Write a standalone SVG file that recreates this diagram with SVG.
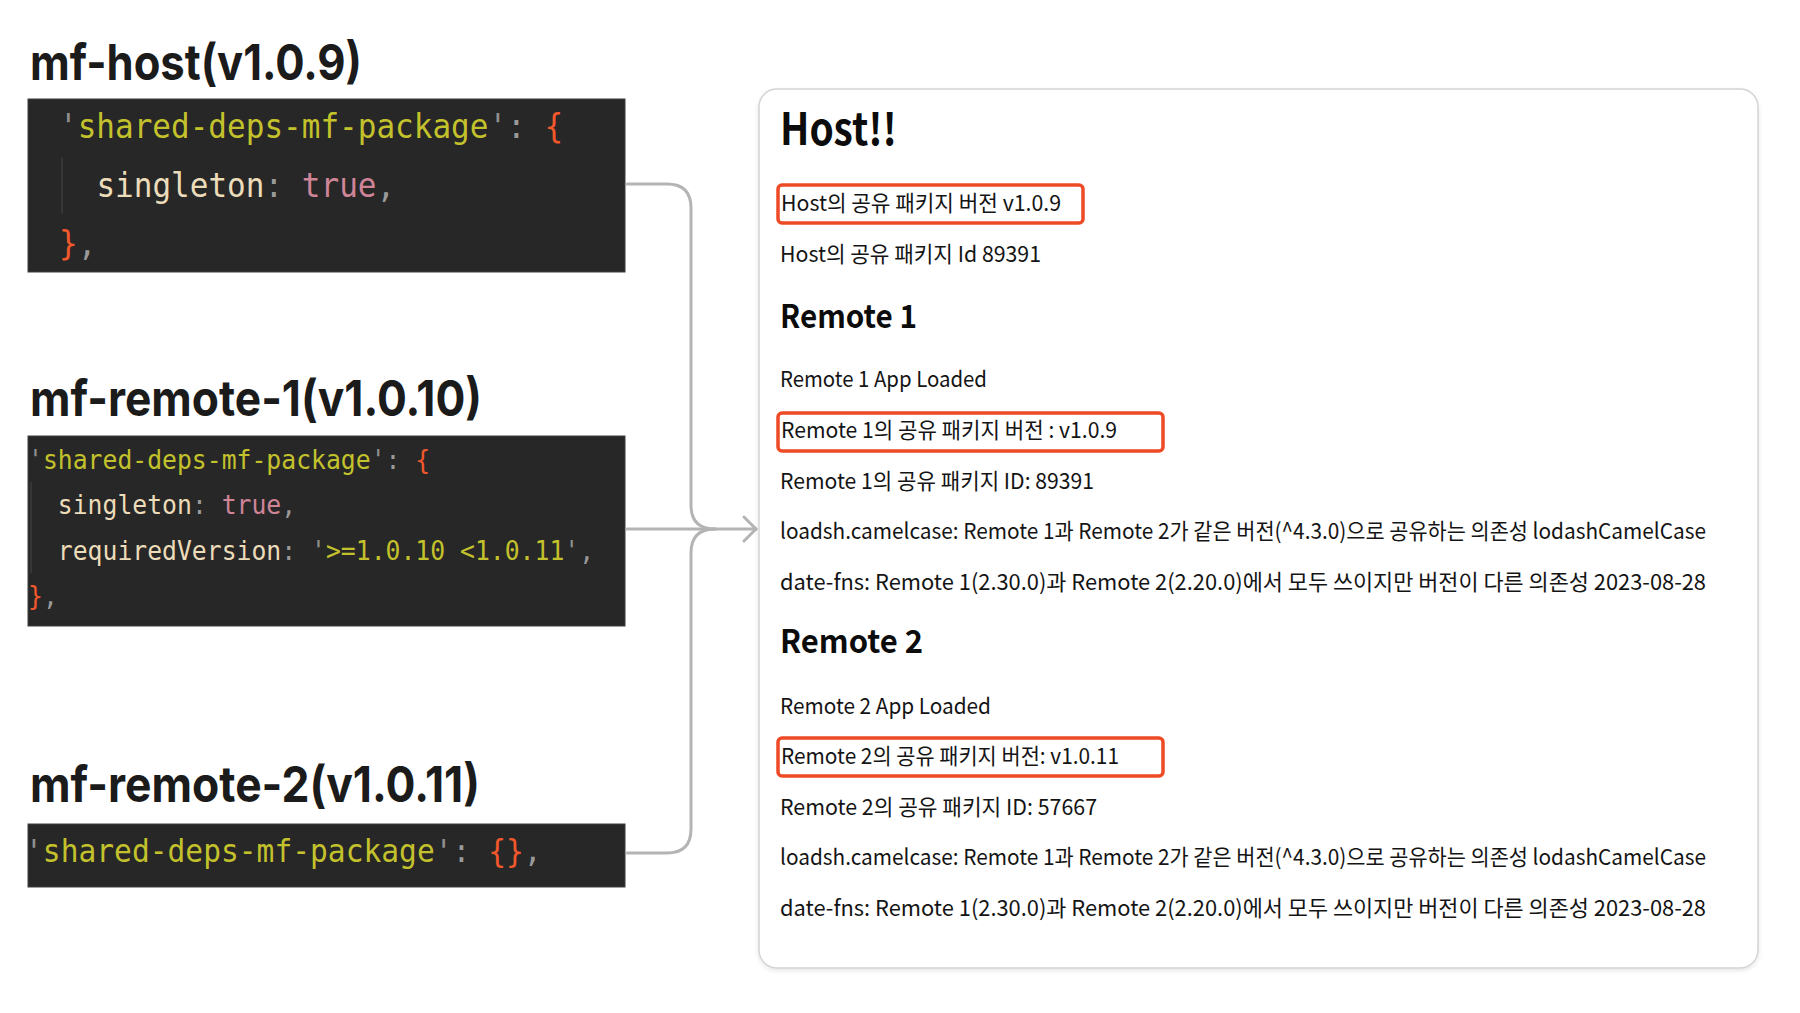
<svg xmlns="http://www.w3.org/2000/svg" width="1800" height="1013" viewBox="0 0 1800 1013">
<style>
.title{font-family:Inter,"Liberation Sans",sans-serif;font-weight:700;font-size:50px;fill:#1b1b1b}
.codebox{fill:#272727;stroke:#3e3e3e;stroke-width:1}
.code{font-family:"DejaVu Sans Mono","Liberation Mono",monospace;white-space:pre}
.str{fill:#c4c22c}.q{fill:#8f8f8f}.p{fill:#9a9a9a}.br{fill:#f2582c}.key{fill:#ecdcba}.kw{fill:#d08498}
.guide{stroke:#3d3d3a;stroke-width:1.5}
.panel{fill:#ffffff;stroke:#d4d4d4;stroke-width:1.5}
.t{font-family:"Noto Sans CJK KR","Noto Sans",sans-serif;font-size:22px;fill:#141414}
.h{font-family:"Noto Sans CJK KR","Noto Sans",sans-serif;font-weight:700;fill:#0c0c0c}
.hl{fill:none;stroke:#ee4a26;stroke-width:3.5}
.conn{fill:none;stroke:#b4b4b4;stroke-width:3;stroke-linecap:round;stroke-linejoin:round}
</style>
<defs>
<marker id="chev" viewBox="-16 -15 18 30" refX="0" refY="0" markerWidth="18" markerHeight="30" markerUnits="userSpaceOnUse" orient="auto">
<path d="M-12,-12 L0,0 L-12,12" fill="none" stroke="#b4b4b4" stroke-width="3" stroke-linecap="round" stroke-linejoin="round"/>
</marker>
<filter id="sh" x="-5%" y="-5%" width="110%" height="110%">
<feDropShadow dx="0" dy="2" stdDeviation="2" flood-color="#000" flood-opacity="0.10"/>
</filter>
</defs>
<rect width="1800" height="1013" fill="#ffffff"/>

<g id="node-host">
<text class="title" x="30" y="80" textLength="332" lengthAdjust="spacingAndGlyphs">mf-host(v1.0.9)</text>
<rect class="codebox" x="28" y="99" width="597" height="173"/>
<line class="guide" x1="62" y1="158" x2="62" y2="214"/>
<text class="code" transform="matrix(0.94,0,0,1,59,138)" font-size="33"><tspan class="q">'</tspan><tspan class="str">shared-deps-mf-package</tspan><tspan class="q">'</tspan><tspan class="p">: </tspan><tspan class="br">{</tspan></text>
<text class="code" transform="matrix(0.94,0,0,1,96.4,197)" font-size="33"><tspan class="key">singleton</tspan><tspan class="p">: </tspan><tspan class="kw">true</tspan><tspan class="p">,</tspan></text>
<text class="code" transform="matrix(0.94,0,0,1,59,255)" font-size="33"><tspan class="br">}</tspan><tspan class="p">,</tspan></text>
</g>

<g id="node-remote1">
<text class="title" x="30" y="416" textLength="452" lengthAdjust="spacingAndGlyphs">mf-remote-1(v1.0.10)</text>
<rect class="codebox" x="28" y="436" width="597" height="190"/>
<line class="guide" x1="31" y1="482" x2="31" y2="573"/>
<text class="code" transform="matrix(0.952,0,0,1,28,469)" font-size="26"><tspan class="q">'</tspan><tspan class="str">shared-deps-mf-package</tspan><tspan class="q">'</tspan><tspan class="p">: </tspan><tspan class="br">{</tspan></text>
<text class="code" transform="matrix(0.952,0,0,1,57.8,514)" font-size="26"><tspan class="key">singleton</tspan><tspan class="p">: </tspan><tspan class="kw">true</tspan><tspan class="p">,</tspan></text>
<text class="code" transform="matrix(0.952,0,0,1,57.8,560)" font-size="26"><tspan class="key">requiredVersion</tspan><tspan class="p">: </tspan><tspan class="q">'</tspan><tspan class="str">&gt;=1.0.10 &lt;1.0.11</tspan><tspan class="q">'</tspan><tspan class="p">,</tspan></text>
<text class="code" transform="matrix(0.952,0,0,1,28,605)" font-size="26"><tspan class="br">}</tspan><tspan class="p">,</tspan></text>
</g>

<g id="node-remote2">
<text class="title" x="30" y="802" textLength="450" lengthAdjust="spacingAndGlyphs">mf-remote-2(v1.0.11)</text>
<rect class="codebox" x="28" y="824" width="597" height="63"/>
<text class="code" transform="matrix(0.925,0,0,1,25,862)" font-size="32"><tspan class="q">'</tspan><tspan class="str">shared-deps-mf-package</tspan><tspan class="q">'</tspan><tspan class="p">: </tspan><tspan class="br">{}</tspan><tspan class="p">,</tspan></text>
</g>

<g id="connectors">
<path class="conn" d="M627,184 H667 Q691,184 691,208 V505 Q691,529 715,529"/>
<path class="conn" d="M627,853 H667 Q691,853 691,829 V553 Q691,529 715,529"/>
<path class="conn" d="M627,529 H756" marker-end="url(#chev)"/>
</g>

<g id="node-browser">
<rect class="panel" x="759" y="89" width="999" height="879" rx="18" filter="url(#sh)"/>
<text class="h" x="780" y="145" font-size="44" textLength="117" lengthAdjust="spacingAndGlyphs">Host!!</text>
<rect class="hl" x="778" y="185" width="305" height="38" rx="4"/>
<text class="t" x="781" y="211" textLength="280" lengthAdjust="spacingAndGlyphs">Host의 공유 패키지 버전 v1.0.9</text>
<text class="t" x="780" y="262" textLength="261" lengthAdjust="spacingAndGlyphs">Host의 공유 패키지 Id 89391</text>
<text class="h" x="780" y="328" font-size="32" textLength="137" lengthAdjust="spacingAndGlyphs">Remote 1</text>
<text class="t" x="780" y="387" textLength="207" lengthAdjust="spacingAndGlyphs">Remote 1 App Loaded</text>
<rect class="hl" x="778" y="413" width="385" height="38" rx="4"/>
<text class="t" x="781" y="438" textLength="336" lengthAdjust="spacingAndGlyphs">Remote 1의 공유 패키지 버전 : v1.0.9</text>
<text class="t" x="780" y="489" textLength="314" lengthAdjust="spacingAndGlyphs">Remote 1의 공유 패키지 ID: 89391</text>
<text class="t" x="780" y="539" textLength="926" lengthAdjust="spacingAndGlyphs">loadsh.camelcase: Remote 1과 Remote 2가 같은 버전(^4.3.0)으로 공유하는 의존성 lodashCamelCase</text>
<text class="t" x="780" y="590" textLength="926" lengthAdjust="spacingAndGlyphs">date-fns: Remote 1(2.30.0)과 Remote 2(2.20.0)에서 모두 쓰이지만 버전이 다른 의존성 2023-08-28</text>
<text class="h" x="780" y="653" font-size="32" textLength="143" lengthAdjust="spacingAndGlyphs">Remote 2</text>
<text class="t" x="780" y="714" textLength="211" lengthAdjust="spacingAndGlyphs">Remote 2 App Loaded</text>
<rect class="hl" x="778" y="738" width="385" height="38" rx="4"/>
<text class="t" x="781" y="764" textLength="338" lengthAdjust="spacingAndGlyphs">Remote 2의 공유 패키지 버전: v1.0.11</text>
<text class="t" x="780" y="815" textLength="317" lengthAdjust="spacingAndGlyphs">Remote 2의 공유 패키지 ID: 57667</text>
<text class="t" x="780" y="865" textLength="926" lengthAdjust="spacingAndGlyphs">loadsh.camelcase: Remote 1과 Remote 2가 같은 버전(^4.3.0)으로 공유하는 의존성 lodashCamelCase</text>
<text class="t" x="780" y="916" textLength="926" lengthAdjust="spacingAndGlyphs">date-fns: Remote 1(2.30.0)과 Remote 2(2.20.0)에서 모두 쓰이지만 버전이 다른 의존성 2023-08-28</text>
</g>
</svg>
